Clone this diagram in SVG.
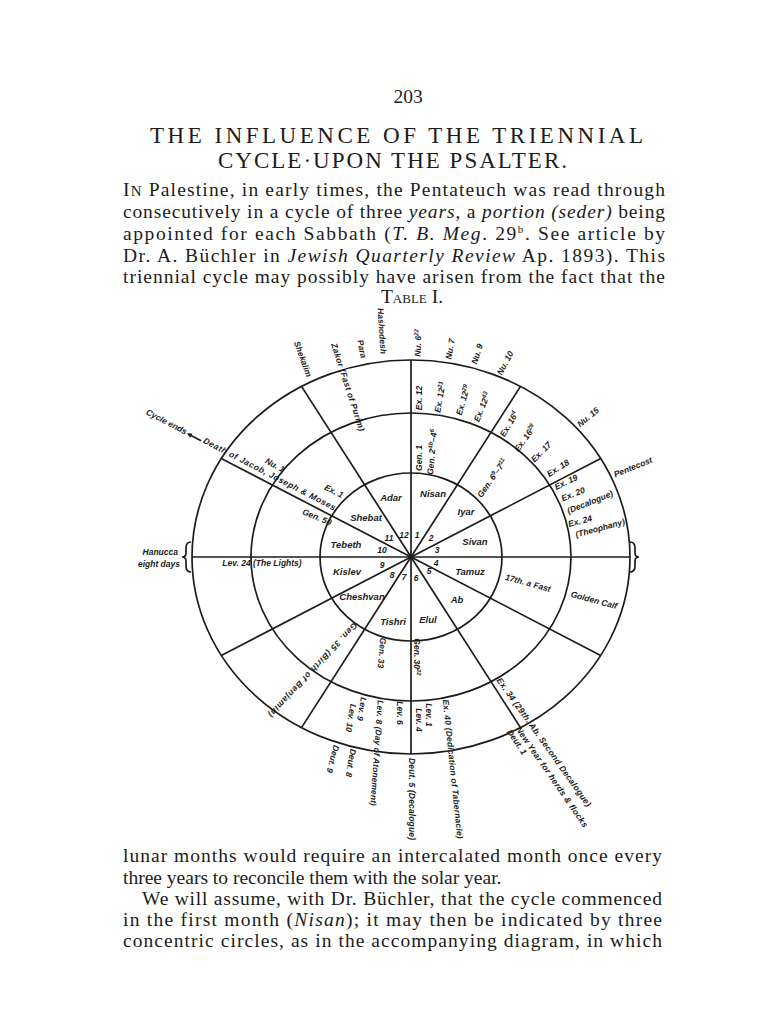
<svg xmlns="http://www.w3.org/2000/svg" width="768" height="1024" viewBox="0 0 768 1024">
<style>
.b{font-family:"Liberation Serif","Times New Roman",serif;fill:#1c1c1c;font-size:19.5px}
.h{font-family:"Liberation Serif","Times New Roman",serif;fill:#1c1c1c;font-size:23px}
.l{font-family:"Liberation Sans",Arial,sans-serif;font-style:italic;font-weight:bold;font-size:8.5px;fill:#1c1c1c;text-anchor:middle}
.e{text-anchor:end}
.st{text-anchor:start}
.m{font-size:9.5px}
.s{font-size:6px}
.k{stroke:#1c1c1c;stroke-width:1.7;fill:none}
</style>
<rect width="768" height="1024" fill="#ffffff"/>

<g id="page-text">
<text class="b" x="408" y="103" text-anchor="middle" font-size="18">203</text>
<text class="h" x="150" y="143" textLength="493" lengthAdjust="spacing">THE INFLUENCE OF THE TRIENNIAL</text>
<text class="h" x="218" y="168" textLength="349" lengthAdjust="spacing">CYCLE·UPON THE PSALTER.</text>
<text class="b" x="123" y="196" textLength="542" lengthAdjust="spacing">I<tspan font-size="15">N</tspan> Palestine, in early times, the Pentateuch was read through</text>
<text class="b" x="123" y="218" textLength="542" lengthAdjust="spacing">consecutively in a cycle of three <tspan font-style="italic">years</tspan>, a <tspan font-style="italic">portion (seder)</tspan> being</text>
<text class="b" x="123" y="240" textLength="542" lengthAdjust="spacing">appointed for each Sabbath (<tspan font-style="italic">T. B. Meg</tspan>. 29<tspan font-size="11" dy="-7">b</tspan><tspan dy="7">.  See article by</tspan></text>
<text class="b" x="123" y="262" textLength="542" lengthAdjust="spacing">Dr. A. Büchler in <tspan font-style="italic">Jewish Quarterly Review</tspan> Ap. 1893).  This</text>
<text class="b" x="123" y="283" textLength="542" lengthAdjust="spacing">triennial cycle may possibly have arisen from the fact that the</text>
<text class="b" x="412" y="303" text-anchor="middle" font-size="17">T<tspan font-size="13">ABLE</tspan> I.</text>

<text class="b" x="123" y="862" textLength="539" lengthAdjust="spacing">lunar months would require an intercalated month once every</text>
<text class="b" x="123" y="884">three years to reconcile them with the solar year.</text>
<text class="b" x="142" y="905" textLength="520" lengthAdjust="spacing">We will assume, with Dr. Büchler, that the cycle commenced</text>
<text class="b" x="123" y="926" textLength="539" lengthAdjust="spacing">in the first month (<tspan font-style="italic">Nisan</tspan>);  it may then be indicated by three</text>
<text class="b" x="123" y="947" textLength="539" lengthAdjust="spacing">concentric circles, as in the accompanying diagram, in which</text>
</g>

<g id="rings">
<ellipse class="k" cx="411" cy="557" rx="91" ry="84"/>
<ellipse class="k" cx="411" cy="557" rx="160" ry="144"/>
<ellipse class="k" cx="411" cy="557" rx="219" ry="197"/>
</g>

<g id="connectors">
<line class="k" x1="411" y1="557" x2="630" y2="557"/>
<line class="k" x1="411" y1="557" x2="600.7" y2="458.5"/>
<line class="k" x1="411" y1="557" x2="520.5" y2="386.4"/>
<line class="k" x1="411" y1="557" x2="411" y2="360"/>
<line class="k" x1="411" y1="557" x2="301.5" y2="386.4"/>
<line class="k" x1="411" y1="557" x2="221.3" y2="458.5"/>
<line class="k" x1="411" y1="557" x2="192" y2="557"/>
<line class="k" x1="411" y1="557" x2="221.3" y2="655.5"/>
<line class="k" x1="411" y1="557" x2="301.5" y2="727.6"/>
<line class="k" x1="411" y1="557" x2="411" y2="754"/>
<line class="k" x1="411" y1="557" x2="520.5" y2="727.6"/>
<line class="k" x1="411" y1="557" x2="600.7" y2="655.5"/>
<circle cx="411" cy="557" r="2.6" fill="#1c1c1c"/>
<path class="k" stroke-width="1.3" d="M191,542 Q186,542 186,548 L186,553 Q186,557 182,557 Q186,557 186,561 L186,566 Q186,572 191,572"/>
<path class="k" stroke-width="1.3" d="M630,542 Q635,542 635,548 L635,553 Q635,557 639,557 Q635,557 635,561 L635,566 Q635,572 630,572"/>
<g transform="translate(194,437) rotate(27.4)">
<line class="k" stroke-width="1.3" x1="-6" y1="0" x2="8" y2="0"/>
<path d="M-8,0 L-3,-2.5 L-3,2.5 Z" fill="#1c1c1c"/>
</g>
</g>

<g id="months">
<text class="l m" x="433" y="497">Nisan</text>
<text class="l m" x="466" y="515">Iyar</text>
<text class="l m" x="475" y="545">Sivan</text>
<text class="l m" x="470" y="575">Tamuz</text>
<text class="l m" x="457" y="603">Ab</text>
<text class="l m" x="428" y="623">Elul</text>
<text class="l m" x="393" y="625">Tishri</text>
<text class="l m" x="362" y="600">Cheshvan</text>
<text class="l m" x="347" y="575">Kislev</text>
<text class="l m" x="346" y="548">Tebeth</text>
<text class="l m" x="366" y="521">Shebat</text>
<text class="l m" x="391" y="501">Adar</text>
</g>

<g id="numbers">
<text class="l" x="417" y="538">1</text>
<text class="l" x="431" y="541">2</text>
<text class="l" x="437" y="553">3</text>
<text class="l" x="436" y="566">4</text>
<text class="l" x="429" y="574">5</text>
<text class="l" x="416" y="581">6</text>
<text class="l" x="404" y="580">7</text>
<text class="l" x="392" y="578">8</text>
<text class="l" x="382" y="568">9</text>
<text class="l" x="382" y="553">10</text>
<text class="l" x="389" y="541">11</text>
<text class="l" x="404" y="538">12</text>
</g>

<g id="year3-labels">
<text class="l" transform="translate(418,343) rotate(-88)" y="3">Nu. 6<tspan class="s" dy="-3">22</tspan></text>
<text class="l" transform="translate(450,349) rotate(-80)" y="3">Nu. 7</text>
<text class="l" transform="translate(477,354) rotate(-72)" y="3">Nu. 9</text>
<text class="l" transform="translate(505,363) rotate(-62)" y="3">Nu. 10</text>
<text class="l" transform="translate(588,417) rotate(-40)" y="3">Nu. 15</text>
<text class="l" transform="translate(633,467) rotate(-22)" y="3">Pentecost</text>
<text class="l" transform="translate(303,359) rotate(70)" y="3">Shekalim</text>
<text class="l" transform="translate(348,387) rotate(72)" y="3" textLength="92" lengthAdjust="spacing">Zakor (Fast of Purim)</text>
<text class="l" transform="translate(362,349) rotate(78)" y="3">Para</text>
<text class="l" transform="translate(382,331) rotate(86)" y="3">Hashodesh</text>
<text class="l" transform="translate(275,465) rotate(28)" y="3">Nu. 1</text>
</g>

<g id="year2-labels">
<text class="l" transform="translate(419,398) rotate(-90)" y="3">Ex. 12</text>
<text class="l" transform="translate(440,397) rotate(-80)" y="3">Ex. 12<tspan class="s" dy="-3">21</tspan></text>
<text class="l" transform="translate(463,400) rotate(-74)" y="3">Ex. 12<tspan class="s" dy="-3">29</tspan></text>
<text class="l" transform="translate(482,407) rotate(-68)" y="3">Ex. 12<tspan class="s" dy="-3">43</tspan></text>
<text class="l" transform="translate(509,424) rotate(-60)" y="3">Ex. 16<tspan class="s" dy="-3">4</tspan></text>
<text class="l" transform="translate(525,438) rotate(-55)" y="3">Ex. 16<tspan class="s" dy="-3">28</tspan></text>
<text class="l" transform="translate(541,452) rotate(-45)" y="3">Ex. 17</text>
<text class="l" transform="translate(558,468) rotate(-33)" y="3">Ex. 18</text>
<text class="l" transform="translate(566,482) rotate(-25)" y="3">Ex. 19</text>
<text class="l" transform="translate(573,494) rotate(-22)" y="3">Ex. 20</text>
<text class="l" transform="translate(590,502) rotate(-22)" y="3">(Decalogue)</text>
<text class="l" transform="translate(580,521) rotate(-15)" y="3">Ex. 24</text>
<text class="l" transform="translate(600,528) rotate(-15)" y="3">(Theophany)</text>
<text class="l" transform="translate(334,491) rotate(27)" y="3">Ex. 1</text>
</g>

<g id="year1-labels">
<text class="l" transform="translate(419,458) rotate(-90)" y="3">Gen. 1</text>
<text class="l" transform="translate(432,452) rotate(-85)" y="3">Gen. 2<tspan class="s" dy="-3">4b</tspan><tspan dy="3">–4</tspan><tspan class="s" dy="-3">6</tspan></text>
<text class="l" transform="translate(492,478) rotate(-55)" y="3">Gen. 6<tspan class="s" dy="-3">9</tspan><tspan dy="3">–7</tspan><tspan class="s" dy="-3">11</tspan></text>
<text class="l" transform="translate(317,517) rotate(22)" y="3">Gen. 50</text>
</g>

<g id="side-labels">
<text class="l e" transform="translate(194,437) rotate(27.4)" x="-9" y="2">Cycle ends</text>
<text class="l st" transform="translate(194,437) rotate(27.4)" x="10" y="1" textLength="148" lengthAdjust="spacing">Death of Jacob, Joseph &amp; Moses</text>
<text class="l e" x="178" y="555">Hanucca</text>
<text class="l e" x="180" y="567">eight days</text>
<text class="l" x="262" y="566" font-size="9">Lev. 24 (The Lights)</text>
<text class="l" transform="translate(528,583) rotate(15)" y="3" font-size="9">17th. a Fast</text>
<text class="l" transform="translate(594,600) rotate(15)" y="3" font-size="9">Golden Calf</text>
</g>

<g id="bottom-labels">
<text class="l" transform="translate(313,670) rotate(133)" y="3" textLength="126" lengthAdjust="spacing">Gen. 35 (Birth of Benjamin)</text>
<text class="l" transform="translate(382,653) rotate(95)" y="3">Gen. 33</text>
<text class="l" transform="translate(417,657) rotate(90)" y="3">Gen. 30<tspan class="s" dy="-3">22</tspan></text>
<text class="l" transform="translate(362,709) rotate(100)" y="3">Lev. 9</text>
<text class="l" transform="translate(351,718) rotate(100)" y="3">Lev. 10</text>
<text class="l" transform="translate(400,713) rotate(90)" y="3">Lev. 6</text>
<text class="l" transform="translate(377,753) rotate(94)" y="3" textLength="106" lengthAdjust="spacing">Lev. 8 (Day of Atonement)</text>
<text class="l" transform="translate(429,715) rotate(90)" y="3">Lev. 1</text>
<text class="l" transform="translate(419,720) rotate(90)" y="3">Lev. 4</text>
<text class="l" transform="translate(453,769) rotate(84)" y="3" textLength="140" lengthAdjust="spacing">Ex. 40 (Dedication of Tabernacle)</text>
<text class="l" transform="translate(544,742) rotate(54.5)" y="3" textLength="156" lengthAdjust="spacing">Ex. 34 (29th. Ab. Second Decalogue)</text>
<text class="l" transform="translate(552,777) rotate(55.4)" y="3" textLength="120" lengthAdjust="spacing">New Year for herds &amp; flocks</text>
<text class="l" transform="translate(517,742) rotate(56)" y="3">Deut. 1</text>
<text class="l" transform="translate(412,799) rotate(90)" y="3" textLength="82" lengthAdjust="spacing">Deut. 5 (Decalogue)</text>
<text class="l" transform="translate(351,763) rotate(100)" y="3">Deut. 8</text>
<text class="l" transform="translate(333,759) rotate(105)" y="3">Deut. 9</text>
</g>
</svg>
